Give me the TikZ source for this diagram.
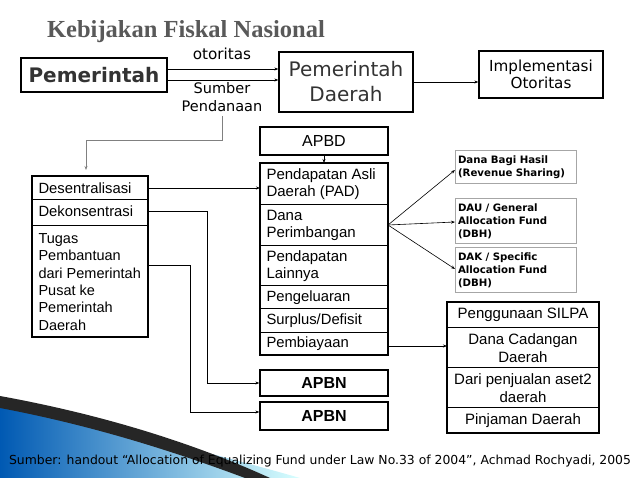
\documentclass[tikz,border=0pt]{standalone}
\usepackage{fontspec}
\setmainfont{Liberation Sans}
\newfontfamily\dv{DejaVu Sans}
\newfontfamily\ttl{Liberation Serif}
\usetikzlibrary{arrows.meta}
\begin{document}
\begin{tikzpicture}[x=1pt,y=-1pt,
  box/.style={draw,line width=1.3pt,inner sep=0pt},
  gbox/.style={draw=gray!70,line width=1pt,inner sep=0pt},
  conn/.style={line width=0.6pt,-{Stealth[length=4pt,width=3pt]}},
  lbl/.style={anchor=west,font=\fontsize{14.8}{17}\selectfont,align=left},
  cl/.style={font=\fontsize{15}{17}\selectfont,align=center}]
\useasboundingbox (0,0) rectangle (638,478);
% swoosh
\shade[left color=cyan!50!blue!70!black,right color=cyan!15] (0,405) .. controls (120,430) and (220,455) .. (300,478) -- (0,478) -- cycle;
\fill[black!85] (0,396) .. controls (110,416) and (200,446) .. (270,478) -- (245,478) .. controls (170,450) and (90,425) .. (0,408) -- cycle;
\node[font=\ttl\bfseries\fontsize{24.5}{28}\selectfont,text=black!65] (title) at (186,32) {Kebijakan Fiskal Nasional};
% top row
\node[box,minimum width=146pt,minimum height=34pt,font=\dv\bfseries\fontsize{20}{23}\selectfont,text=black!80] (pem) at (94,75) {Pemerintah};
\node[box,minimum width=134pt,minimum height=60pt,font=\dv\fontsize{20}{25}\selectfont,align=center,text=black!80] (pd) at (346,82) {Pemerintah\\Daerah};
\node[box,minimum width=124pt,minimum height=47pt,font=\dv\fontsize{15.2}{17.5}\selectfont,align=center] (impl) at (541,74.5) {Implementasi\\Otoritas};
\coordinate (a1) at (167,69); \coordinate (a2) at (167,80);
\draw[conn] (a1) -- (a1 -| pd.west);
\draw[conn] (a2) -- (a2 -| pd.west);
\node[font=\dv\fontsize{15.2}{17}\selectfont] (oto) at (222,54) {otoritas};
\node[font=\dv\fontsize{14.5}{18}\selectfont,align=center] (sp) at (222,97) {Sumber\\Pendanaan};
\draw[conn] (pd.east |- 0,82) -- (impl.west |- 0,82);
% left box
\draw[box] (32,176) rectangle (148,337);
\draw[line width=1pt] (32,200) -- (148,200) (32,226) -- (148,226);
\node[lbl] (des) at (35,188) {Desentralisasi};
\node[lbl] (dek) at (35,211) {Dekonsentrasi};
\node[lbl,anchor=north west,font=\fontsize{14.5}{17.3}\selectfont] (tug) at (35,230) {Tugas\\Pembantuan\\dari Pemerintah\\Pusat ke\\Pemerintah\\Daerah};
\coordinate (lb) at (86,176);
\draw[conn,draw=gray] (222,116) -- (222,140) -- (86,140) -- ([yshift=6pt]lb);
% APBD
\node[box,minimum width=128pt,minimum height=28pt,font=\fontsize{16}{18}\selectfont] (apbd) at (324,141) {APBD};
\draw[box] (260,163) rectangle (388,355);
\foreach \y in {205,246,286,309,333} \draw[line width=1pt] (260,\y) -- (388,\y);
\node[lbl,font=\fontsize{15}{17.5}\selectfont] (pad) at (263,184) {Pendapatan Asli\\Daerah (PAD)};
\node[lbl,font=\fontsize{15}{17.5}\selectfont] (dp) at (263,225.5) {Dana\\Perimbangan};
\node[lbl,font=\fontsize{15}{17.5}\selectfont] (pl) at (263,266) {Pendapatan\\Lainnya};
\node[lbl] (peng) at (263,297.5) {Pengeluaran};
\node[lbl] (sur) at (263,321) {Surplus/Defisit};
\node[lbl] (pemb) at (263,344) {Pembiayaan};
\coordinate (mt) at (324,163);
\draw[conn] (apbd.south) -- (mt);
\coordinate (mr) at (388,225);
\draw[conn] (148,188) -- (260,188);
% APBN
\node[box,minimum width=128pt,minimum height=26pt,font=\bfseries\fontsize{16}{18}\selectfont] (apbn1) at (324,383) {APBN};
\node[box,minimum width=128pt,minimum height=28pt,font=\bfseries\fontsize{16}{18}\selectfont] (apbn2) at (324,416) {APBN};
\draw[conn] (148,211) -- (207,211) -- (207,383) -- (apbn1.west);
\draw[conn] (148,265) -- (190,265) -- (190,412) -- (apbn2.west |- 0,412);
% small boxes
\tikzset{sb/.style={gbox,anchor=north west,minimum width=120pt,align=left,text width=116pt,font=\dv\bfseries\fontsize{10.2}{13}\selectfont,inner sep=2.5pt}}
\node[sb,minimum height=33pt] (dbh) at (455,150) {Dana Bagi Hasil\\(Revenue Sharing)};
\node[sb,minimum height=45pt] (dau) at (455,198) {DAU / General\\Allocation Fund\\(DBH)};
\node[sb,minimum height=45pt] (dak) at (455,247) {DAK / Specific\\Allocation Fund\\(DBH)};
\draw[conn] (mr) -- (455,170);
\draw[conn] (mr) -- (455,222);
\draw[conn] (mr) -- (455,269);
% right box
\draw[box] (447,302) rectangle (599,433);
\foreach \y in {328,368,408} \draw[line width=1pt] (447,\y) -- (599,\y);
\node[cl] (silpa) at (523,315) {Penggunaan SILPA};
\node[cl,font=\fontsize{15}{18}\selectfont] (dc) at (523,348) {Dana Cadangan\\Daerah};
\node[cl,font=\fontsize{15}{18}\selectfont] (dj) at (523,388) {Dari penjualan aset2\\daerah};
\node[cl] (pj) at (523,420.5) {Pinjaman Daerah};
\draw[conn] (388,346) -- (447,346);
\node[font=\dv\fontsize{12.4}{14}\selectfont] (src) at (320,461) {Sumber: handout “Allocation of Equalizing Fund under Law No.33 of 2004”, Achmad Rochyadi, 2005};
\end{tikzpicture}
\end{document}
